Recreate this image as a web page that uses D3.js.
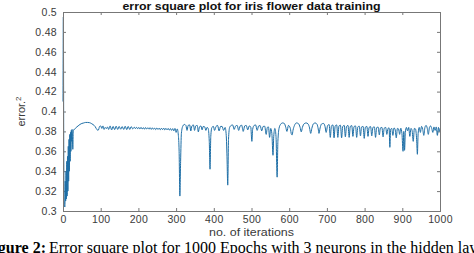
<!DOCTYPE html>
<html>
<head>
<meta charset="utf-8">
<script src="https://cdn.jsdelivr.net/npm/d3@7"></script>
<style>
  body { margin: 0; background: #fff; }
  svg { display: block; }
</style>
</head>
<body>
<script>
//chart data
var chartTitle = "error square plot for iris flower data training";
var xLabel = "no. of iterations";
var yTicks = [0.3, 0.32, 0.34, 0.36, 0.38, 0.4, 0.42, 0.44, 0.46, 0.48, 0.5];
var yTickLabels = ["0.3", "0.32", "0.34", "0.36", "0.38", "0.4", "0.42", "0.44", "0.46", "0.48", "0.5"];
var xTicks = [0, 100, 200, 300, 400, 500, 600, 700, 800, 900, 1000];

//iteration number and squared error of each vertex of the trace
var iterations = [
  0,1,2,3,4,5,6,7,8,9,10,11,12,13,14,15,16,17,18,19,20,21,22,23,24,25,26,27,28,29,
  30,35,40,45,50,55,60,65,70,75,80,85,88,91,93,95,
  97,100,103,106,109,112,115,118,121,125,129,133,137,141,145,149,153,157,161,165,169,173,177,181,185,189,
  192,195,198,201,204,207,210,213,216,219,222,225,228,231,234,237,240,243,246,249,252,255,258,261,264,267,
  270,273,276,279,282,285,288,291,294,297,300,303,
  306,308,310,312,314,318,322,326,329,332,336,339,342,346,349,352,356,359,362,366,369,372,376,379,382,385,
  388,390,392,395,399,402,406,410,414,418,422,426,430,433,435,437,439,442,446,450,454,458,462,466,470,474,
  478,482,486,490,494,498,501,503,507,511,515,519,523,527,531,535,539,542,545,548,551,554,557,559,562,565,
  568,570,573,577,582,587,591,594,
  598,603,606,608,610,614,619,624,629,632,635,640,645,650,654,657,660,664,669,674,677,679,682,686,691,695,698,
  702,706,709,712,716,719,722,726,729,732,736,739,742,746,749,752,756,759,762,766,769,772,776,779,782,786,
  789,792,796,799,802,806,809,812,816,819,822,826,829,832,836,839,842,846,849,852,856,859,
  862,865,867,869,872,875,878,881,884,887,890,893,896,899,902,904,906,908,911,914,917,920,923,926,929,932,
  935,938,940,942,945,948,951,954,957,960,963,966,969,972,975,978,981,984,987,990,993,996,998,1000
];
var errorSq = [
  0.41,0.495,0.36,0.31,0.305,0.304,0.33,0.31,0.34,0.312,0.35,0.315,0.355,0.32,0.365,0.33,0.372,0.34,0.377,0.35,0.379,0.36,0.381,0.37,0.382,0.375,0.362,0.378,0.381,0.382,
  0.382,0.384,0.3855,0.387,0.388,0.3885,0.389,0.389,0.3888,0.388,0.3868,0.385,0.383,0.3815,0.381,0.3825,
  0.385,0.3855,0.383,0.3855,0.382,0.384,0.3828,0.3845,0.382,0.3855,0.3815,0.385,0.3818,0.3853,0.382,0.385,0.3822,0.3848,0.382,0.3852,0.3818,0.385,0.382,0.3848,0.3825,0.3842,
  0.3828,0.3842,0.3826,0.384,0.3825,0.3841,0.3824,0.3838,0.3822,0.3839,0.3823,0.3837,0.3822,0.3838,0.382,0.3836,0.3821,0.3834,0.3818,0.3835,0.382,0.3833,0.3817,0.3832,0.3818,0.3833,
  0.3815,0.3831,0.3816,0.383,0.3812,0.3829,0.381,0.3828,0.3805,0.383,0.379,0.3825,
  0.376,0.36,0.315,0.35,0.378,0.3855,0.387,0.386,0.381,0.386,0.3865,0.3805,0.3855,0.3865,0.381,0.3855,0.386,0.3795,0.3845,0.3855,0.3815,0.385,0.3845,0.381,0.384,0.383,
  0.37,0.342,0.375,0.384,0.385,0.381,0.385,0.386,0.3805,0.385,0.385,0.381,0.384,0.376,0.355,0.326,0.372,0.384,0.386,0.3865,0.382,0.3855,0.386,0.381,0.3855,0.3862,
  0.38,0.3855,0.386,0.3815,0.3855,0.3845,0.37,0.382,0.386,0.3865,0.381,0.3855,0.3858,0.3805,0.385,0.3852,0.377,0.384,0.3845,0.374,0.383,0.378,0.356,0.375,0.383,0.375,
  0.334,0.37,0.383,0.387,0.3885,0.388,0.384,0.38,
  0.386,0.383,0.377,0.3765,0.381,0.386,0.3885,0.388,0.384,0.3795,0.384,0.3878,0.3885,0.3875,0.3835,0.378,0.383,0.3875,0.3885,0.387,0.3825,0.378,0.3835,0.3875,0.388,0.385,0.379,
  0.386,0.3868,0.374,0.3855,0.3865,0.3735,0.3855,0.3865,0.374,0.3855,0.3862,0.3735,0.385,0.386,0.3745,0.385,0.386,0.374,0.385,0.3858,0.375,0.3848,0.3855,0.374,0.3845,0.3852,
  0.3755,0.3845,0.385,0.373,0.3842,0.385,0.375,0.384,0.3848,0.3755,0.384,0.3845,0.374,0.3838,0.3843,0.3765,0.3835,0.384,0.3745,0.3832,0.384,0.377,
  0.383,0.3835,0.364,0.382,0.383,0.376,0.3835,0.382,0.3735,0.383,0.3825,0.377,0.3832,0.378,0.36,0.38,0.361,0.379,0.384,0.3805,0.384,0.375,0.383,0.381,0.37,0.383,
  0.3825,0.372,0.357,0.378,0.384,0.379,0.385,0.3825,0.376,0.384,0.386,0.3835,0.377,0.384,0.3855,0.383,0.379,0.3845,0.381,0.3845,0.376,0.384,0.38,0.383
];

//window size and plot box
var width = 474,
    height = 253;
var plot = {left: 63, top: 12, right: 440, bottom: 211};

drawChart();

function drawChart(){
    var svg = d3.select("body")
        .append("svg")
        .attr("width", width)
        .attr("height", height)
        .style("font-family", "'Liberation Sans', Arial, sans-serif");

    svg.append("rect")
        .attr("width", width)
        .attr("height", height)
        .attr("fill", "#fff");

    //scales
    var x = d3.scaleLinear()
        .domain([0, 1000])
        .range([plot.left, plot.right]);

    var y = d3.scaleLinear()
        .domain([0.3, 0.5])
        .range([plot.bottom, plot.top]);

    //axes with ticks pointing inwards, matlab style
    var bottom = svg.append("g")
        .attr("transform", "translate(0," + plot.bottom + ")")
        .call(d3.axisBottom(x).tickValues(xTicks).tickFormat(d3.format("d"))
            .tickSize(-3).tickPadding(5));

    var left = svg.append("g")
        .attr("transform", "translate(" + plot.left + ",0)")
        .call(d3.axisLeft(y).tickValues(yTicks)
            .tickFormat(function(d, i){ return yTickLabels[i]; })
            .tickSize(-3).tickPadding(6));

    var top = svg.append("g")
        .attr("transform", "translate(0," + plot.top + ")")
        .call(d3.axisTop(x).tickValues(xTicks).tickSize(-3).tickFormat(""));

    var right = svg.append("g")
        .attr("transform", "translate(" + plot.right + ",0)")
        .call(d3.axisRight(y).tickValues(yTicks).tickSize(-3).tickFormat(""));

    [bottom, left, top, right].forEach(function(g){
        g.select(".domain").remove();
        g.selectAll(".tick line").attr("stroke", "#777");
        g.selectAll(".tick text")
            .attr("fill", "#3a3a3a")
            .style("font-size", "10.5px")
            .style("letter-spacing", "0.3px");
    });

    //the trace
    var pts = iterations.map(function(d, i){ return [d, errorSq[i]]; });

    var line = d3.line()
        .x(function(d){ return x(d[0]); })
        .y(function(d){ return y(d[1]); })
        .curve(d3.curveMonotoneX);

    svg.append("path")
        .datum(pts)
        .attr("fill", "none")
        .attr("stroke", "#1d6ea6")
        .attr("stroke-width", 1)
        .attr("stroke-linejoin", "round")
        .attr("d", line);

    //box round the plot
    svg.append("rect")
        .attr("x", plot.left + 0.5)
        .attr("y", plot.top + 0.5)
        .attr("width", plot.right - plot.left)
        .attr("height", plot.bottom - plot.top)
        .attr("fill", "none")
        .attr("stroke", "#777");

    //title, stretched to the width it has in the picture
    svg.append("text")
        .attr("x", (plot.left + plot.right) / 2)
        .attr("y", 9.5)
        .attr("text-anchor", "middle")
        .attr("textLength", 258)
        .attr("lengthAdjust", "spacingAndGlyphs")
        .style("font-size", "11px")
        .style("font-weight", "bold")
        .attr("fill", "#111")
        .text(chartTitle);

    //x label
    svg.append("text")
        .attr("x", (plot.left + plot.right) / 2)
        .attr("y", 236)
        .attr("text-anchor", "middle")
        .attr("textLength", 85)
        .attr("lengthAdjust", "spacingAndGlyphs")
        .style("font-size", "11px")
        .attr("fill", "#3a3a3a")
        .text(xLabel);

    //y label with superscript
    var yl = svg.append("text")
        .attr("transform", "translate(25," + ((plot.top + plot.bottom) / 2) + ") rotate(-90)")
        .attr("text-anchor", "middle")
        .style("font-size", "11px")
        .attr("fill", "#3a3a3a");
    yl.append("tspan").text("error.");
    yl.append("tspan").attr("dy", "-0.5em").style("font-size", "8px").text("2");

    //figure caption under the chart, it runs past both edges
    svg.append("text")
        .attr("x", 46)
        .attr("y", 253)
        .attr("text-anchor", "end")
        .style("font-family", "'Liberation Serif', 'Times New Roman', serif")
        .style("font-size", "16px")
        .style("font-weight", "bold")
        .attr("fill", "#000")
        .text("Figure 2:");

    svg.append("text")
        .attr("x", 49)
        .attr("y", 253)
        .style("font-family", "'Liberation Serif', 'Times New Roman', serif")
        .style("font-size", "16px")
        .attr("fill", "#000")
        .text("Error square plot for 1000 Epochs with 3 neurons in the hidden layer");
}
</script>
</body>
</html>
